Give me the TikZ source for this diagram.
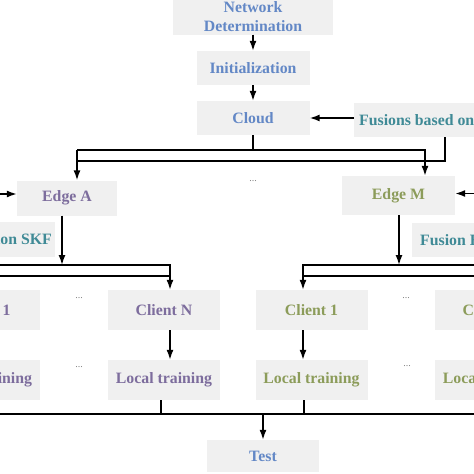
\documentclass[tikz,border=0pt]{standalone}
\usepackage{fontspec}
\setmainfont{Liberation Serif}
\usetikzlibrary{arrows.meta}
\definecolor{boxgray}{HTML}{F0F0F0}
\definecolor{cloudblue}{HTML}{6388C6}
\definecolor{fusteal}{HTML}{3F8A96}
\definecolor{edgepurple}{HTML}{7D6D9D}
\definecolor{edgeolive}{HTML}{8C9C5A}

\begin{document}
\begin{tikzpicture}[x=1pt, y=-1pt, >={Latex[length=10pt,width=7pt]},
    box/.style={fill=boxgray, inner sep=0pt, align=center, font=\fontsize{15.8}{19}\selectfont\bfseries},
    link/.style={black, line width=1.5pt},
    dots/.style={text=gray, font=\fontsize{10}{11}\selectfont}]
    \useasboundingbox (0,0) rectangle (474,474);
    \clip (0,0) rectangle (474,474);

    % cloud part
    \node [box, text=cloudblue, minimum width=160pt, minimum height=36pt] (net) at (253,16.5) {Network\\Determination};
    \node [box, text=cloudblue, minimum width=113pt, minimum height=34pt] (init) at (253,68) {Initialization};
    \node [box, text=cloudblue, minimum width=113pt, minimum height=34pt] (cloud) at (253,118) {Cloud};
    \node [box, text=fusteal, anchor=west, minimum height=34pt, inner xsep=5pt] (fuscloud) at (354,120) {Fusions based on};

    \draw [link, ->] (net) -- (init);
    \draw [link, ->] (init) -- (cloud);
    \draw [link, ->] (fuscloud.west |- 0,118) -- (cloud.east |- 0,118);

    \coordinate (cloudbus) at (77,150);
    \coordinate (fusbus) at (77,161);
    \draw [link] (cloud.south) -- (cloud.south |- cloudbus);
    \draw [link] (fuscloud.south -| 445,0) |- (fusbus);

    % edges
    \node [box, text=edgepurple, minimum width=100pt, minimum height=35pt] (edgeA) at (67,198) {Edge A};
    \node [box, text=edgeolive, minimum width=113pt, minimum height=39pt] (edgeM) at (398.5,195.5) {Edge M};
    \node [dots] (dotsE) at (253,181) {...};

    \draw [link, ->] (cloudbus) -- (edgeA.north -| cloudbus);
    \draw [link, ->] (cloudbus) -| (edgeM.north -| 425,0);
    \draw [link, ->] (-10,194) -- (edgeA.west |- 0,194);
    \draw [link, ->] (484,193.5) -- (edgeM.east |- 0,193.5);

    \node [box, text=fusteal, anchor=east, minimum height=35pt, inner xsep=3pt] (fusA) at (55,239.5) {Fusion SKF};
    \node [box, text=fusteal, anchor=west, minimum height=34pt, inner xsep=8pt] (fusM) at (412,240) {Fusion EKF};

    \coordinate (busA) at (62,265);
    \coordinate (busM) at (399,265);
    \draw [link, ->] (edgeA.south -| busA) -- (busA);
    \draw [link, ->] (edgeM.south -| busM) -- (busM);

    % clients
    \node [box, text=edgepurple, minimum width=112pt, minimum height=40pt] (clientA1) at (-16,310) {Client 1};
    \node [box, text=edgepurple, minimum width=112pt, minimum height=40pt] (clientAN) at (164,310) {Client N};
    \node [box, text=edgeolive, minimum width=112pt, minimum height=40pt] (clientM1) at (311.5,310) {Client 1};
    \node [box, text=edgeolive, minimum width=112pt, minimum height=40pt] (clientMN) at (491,310) {Client N};
    \node [dots] (dotsA1) at (79,298) {...};
    \node [dots] (dotsM1) at (406,298) {...};

    \draw [link, ->] (-10,265) -| (clientAN.north -| 170,0);
    \draw [link] (-10,276) -- (170,276);
    \draw [link, ->] (484,265) -| (clientM1.north -| 303,0);
    \draw [link] (484,276) -- (303,276);

    \node [box, text=edgepurple, minimum width=112pt, minimum height=40pt] (trainA1) at (-16,380) {Local training};
    \node [box, text=edgepurple, minimum width=112pt, minimum height=40pt] (trainAN) at (164,380) {Local training};
    \node [box, text=edgeolive, minimum width=112pt, minimum height=40pt] (trainM1) at (311.5,380) {Local training};
    \node [box, text=edgeolive, minimum width=112pt, minimum height=40pt] (trainMN) at (491,380) {Local training};
    \node [dots] (dotsA2) at (79,367) {...};
    \node [dots] (dotsM2) at (407,366) {...};

    \draw [link, ->] (clientAN.south -| 170,0) -- (trainAN.north -| 170,0);
    \draw [link, ->] (clientM1.south -| 303,0) -- (trainM1.north -| 303,0);

    % test
    \node [box, text=cloudblue, minimum width=112pt, minimum height=32pt] (test) at (263,456) {Test};
    \coordinate (testbus) at (263,414);
    \draw [link] (trainAN.south -| 161,0) -- (161,414);
    \draw [link] (trainM1.south -| 304,0) -- (304,414);
    \draw [link] (-10,414) -- (484,414);
    \draw [link, ->] (testbus) -- (test);
\end{tikzpicture}
\end{document}
